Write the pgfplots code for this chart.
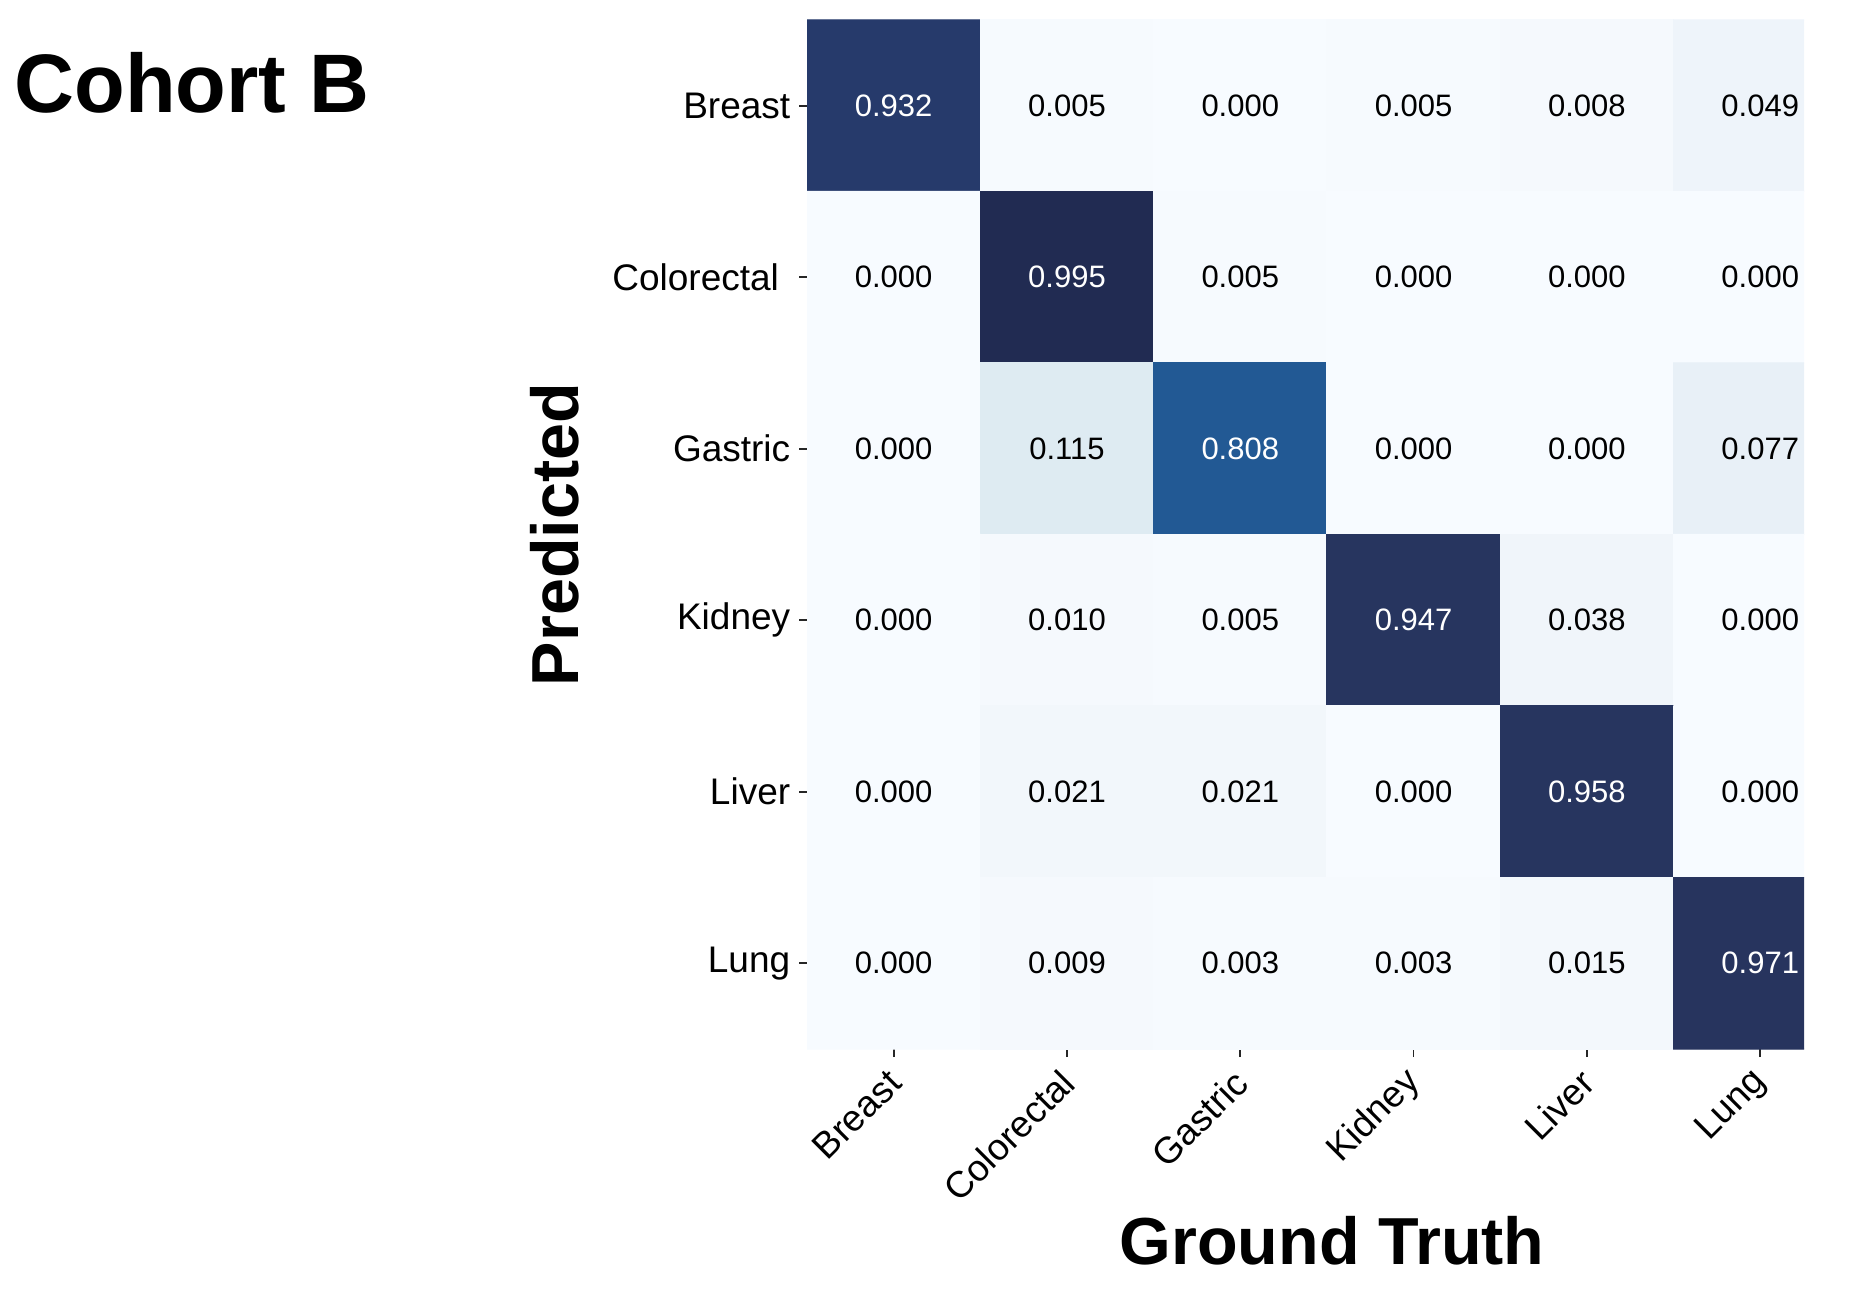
\documentclass[border=0pt]{standalone}
\usepackage{pgfplots}
\pgfplotsset{compat=1.18}
\usepackage{pgfplotstable}
\usepackage{fontspec}
\setmainfont{Liberation Sans}

% confusion matrix, rows = predicted, cols = ground truth
\pgfplotstableread{
x y v
0 0 0.932
1 0 0.005
2 0 0.000
3 0 0.005
4 0 0.008
5 0 0.049
0 1 0.000
1 1 0.995
2 1 0.005
3 1 0.000
4 1 0.000
5 1 0.000
0 2 0.000
1 2 0.115
2 2 0.808
3 2 0.000
4 2 0.000
5 2 0.077
0 3 0.000
1 3 0.010
2 3 0.005
3 3 0.947
4 3 0.038
5 3 0.000
0 4 0.000
1 4 0.021
2 4 0.021
3 4 0.000
4 4 0.958
5 4 0.000
0 5 0.000
1 5 0.009
2 5 0.003
3 5 0.003
4 5 0.015
5 5 0.971
}\cm

\pgfplotsset{
  colormap={cohort}{rgb255(0)=(247,251,255) rgb255(21)=(242,247,251)
    rgb255(49)=(238,244,250) rgb255(77)=(232,240,247) rgb255(115)=(222,235,242)
    rgb255(808)=(34,89,148) rgb255(932)=(38,58,107) rgb255(947)=(39,53,95)
    rgb255(971)=(39,52,94) rgb255(995)=(33,43,82)}
}

\begin{document}
\begin{tikzpicture}[x=0.4pt,y=0.4pt]
\path[use as bounding box] (0,0) rectangle (1871,1304);
\node[anchor=base west, inner sep=0pt, font=\bfseries\fontsize{33.2}{38}\selectfont] at (14,1191) {Cohort B};

\begin{axis}[
    at={(322.8pt,102pt)}, anchor=south west,
    scale only axis,
    width=398.8pt, height=411.6pt,
    xmin=-0.5, xmax=5.253,
    ymin=-0.5, ymax=5.5,
    y dir=reverse,
    colormap name=cohort,
    axis line style={draw=none},
    tick align=outside,
    major tick length=3.2pt,
    tick style={black!85, line width=0.7pt},
    xtick pos=bottom, ytick pos=left,
    xtick={0,1,2,3,4,5}, ytick={0,1,2,3,4,5},
    xticklabels={Breast,Colorectal,Gastric,Kidney,Liver,Lung},
    yticklabels={Breast,Colorectal\kern4.5pt,Gastric,Kidney,Liver,Lung},
    ticklabel style={font=\fontsize{14.8}{17}\selectfont},
    xticklabel style={rotate=45, anchor=east, yshift=-4pt},
    xticklabel shift=2.6pt,
    xlabel={Ground Truth}, ylabel={Predicted},
    every axis x label/.style={at={(axis description cs:0.5266,-0.2099)}, anchor=base,
      font=\bfseries\fontsize{26.6}{32}\selectfont},
    every axis y label/.style={at={(axis description cs:-0.2287,0.5)}, rotate=90, anchor=base,
      font=\bfseries\fontsize{26.6}{32}\selectfont},
]
\addplot[matrix plot*, mesh/cols=6, point meta=explicit,
    point meta min=0, point meta max=0.995] table[x=x, y=y, meta=v] {\cm};
\addplot[draw=none, mark=none, point meta=explicit symbolic,
    nodes near coords={\pgfmathsetmacro\tc{\pgfplotspointmeta>0.5 ? "white" : "black"}%
      \color{\tc}\pgfplotspointmeta},
    every node near coord/.append style={anchor=center,
      font=\fontsize{12.4}{14}\selectfont}]
    table[x=x, y=y, meta=v] {\cm};
\end{axis}
\end{tikzpicture}
\end{document}
